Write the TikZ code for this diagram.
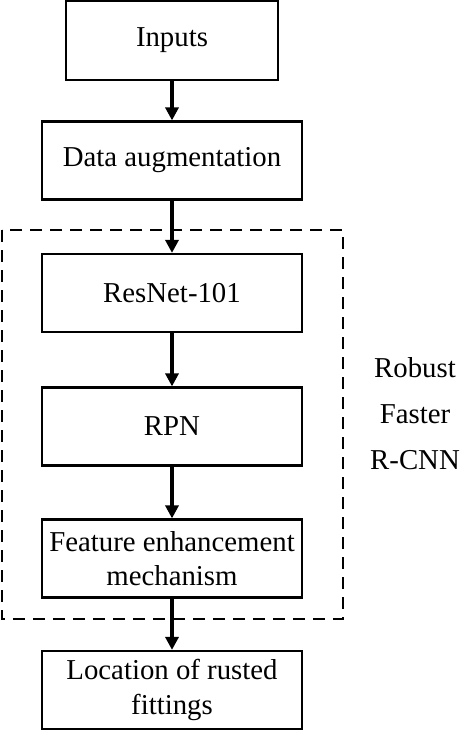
\documentclass[tikz,border=0pt]{standalone}
\usepackage{fontspec}
\setmainfont{Liberation Serif}
\usetikzlibrary{arrows.meta}
\tikzset{
  boxnode/.style={draw, line width=2.2pt, minimum width=260pt, minimum height=78pt, inner sep=0pt, align=center, font=\fontsize{28.8}{34.5}\selectfont},
  flowarrow/.style={line width=3.4pt, -{Triangle[length=13pt,width=13pt]}, shorten >=0pt},
  groupbox/.style={draw, line width=2.2pt, dash pattern=on 12pt off 8pt}
}
\begin{document}
\begin{tikzpicture}[x=1pt,y=-1pt]
\useasboundingbox (0,0) rectangle (474,737);
\draw[groupbox] (2,230) rectangle (343,619);
\node[boxnode, minimum width=212pt, minimum height=79pt] (inp) at (172,40.5) {Inputs};
\node[boxnode] (aug) at (172,160.5) {Data augmentation};
\node[boxnode] (res) at (172,293) {ResNet-101};
\node[boxnode] (rpn) at (172,426.5) {RPN};
\node[boxnode] (fea) at (172,558.5) {Feature enhancement\\mechanism};
\node[boxnode] (loc) at (172,690) {Location of rusted\\fittings};
\node[align=center, font=\fontsize{28.8}{46}\selectfont, inner sep=0pt] (lbl) at (415,414) {Robust\\Faster\\R-CNN};
\draw[flowarrow] (inp.south) -- (aug.north);
\draw[flowarrow] (aug.south) -- (res.north);
\draw[flowarrow] (res.south) -- (rpn.north);
\draw[flowarrow] (rpn.south) -- (fea.north);
\draw[flowarrow] (fea.south) -- (loc.north);
\end{tikzpicture}
\end{document}
